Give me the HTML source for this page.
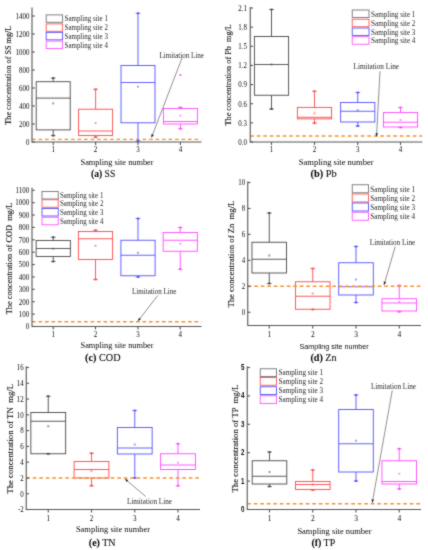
<!DOCTYPE html>
<html><head><meta charset="utf-8"><style>
html,body{margin:0;padding:0;background:#fff;}
body{width:428px;height:550px;overflow:hidden;}
svg{display:block;will-change:transform;}
text{fill:#0a0a0a;}
.h{stroke:#151515;stroke-width:0.1px;}
.m{fill:#2a2a2a;}
</style></head><body>
<svg width="428" height="550" viewBox="0 0 428 550">
<defs><filter id="bl" color-interpolation-filters="sRGB" filterUnits="userSpaceOnUse" x="0" y="0" width="428" height="550"><feConvolveMatrix order="3" kernelMatrix="1 2 1 2 16 2 1 2 1" divisor="28" edgeMode="duplicate"/></filter></defs>
<g filter="url(#bl)"><rect width="428" height="550" fill="#fff"/>
<g stroke="#484848" stroke-width="0.9" fill="none">
<rect x="36.2" y="81.7" width="34" height="48.2"/>
<line x1="36.2" y1="98.1" x2="70.2" y2="98.1"/>
<line x1="53.2" y1="78.1" x2="53.2" y2="81.7"/>
<line x1="53.2" y1="129.9" x2="53.2" y2="135.6"/>
</g>
<line x1="50.8" y1="78.1" x2="55.6" y2="78.1" stroke="#484848" stroke-width="0.9" opacity="0.8"/>
<rect x="52.1" y="77.2" width="2.2" height="1.8" fill="#484848"/>
<line x1="50.8" y1="135.6" x2="55.6" y2="135.6" stroke="#484848" stroke-width="0.9" opacity="0.8"/>
<rect x="52.1" y="134.7" width="2.2" height="1.8" fill="#484848"/>
<rect x="52.2" y="102.4" width="2" height="2" fill="#484848" opacity="0.55"/>
<g stroke="#ff4646" stroke-width="0.9" fill="none">
<rect x="78.6" y="109.2" width="34" height="26.3"/>
<line x1="78.6" y1="131" x2="112.6" y2="131"/>
<line x1="95.6" y1="89.3" x2="95.6" y2="109.2"/>
<line x1="95.6" y1="135.5" x2="95.6" y2="137.2"/>
</g>
<line x1="93.2" y1="89.3" x2="98" y2="89.3" stroke="#ff4646" stroke-width="0.9" opacity="0.8"/>
<rect x="94.5" y="88.4" width="2.2" height="1.8" fill="#ff4646"/>
<line x1="93.2" y1="137.2" x2="98" y2="137.2" stroke="#ff4646" stroke-width="0.9" opacity="0.8"/>
<rect x="94.5" y="136.3" width="2.2" height="1.8" fill="#ff4646"/>
<rect x="94.6" y="122.1" width="2" height="2" fill="#ff4646" opacity="0.55"/>
<g stroke="#5050ff" stroke-width="0.9" fill="none">
<rect x="121" y="65.5" width="34" height="57.3"/>
<line x1="121" y1="82.5" x2="155" y2="82.5"/>
<line x1="138" y1="13.3" x2="138" y2="65.5"/>
<line x1="138" y1="122.8" x2="138" y2="141"/>
</g>
<line x1="135.6" y1="13.3" x2="140.4" y2="13.3" stroke="#5050ff" stroke-width="0.9" opacity="0.8"/>
<rect x="136.9" y="12.4" width="2.2" height="1.8" fill="#5050ff"/>
<line x1="135.6" y1="141" x2="140.4" y2="141" stroke="#5050ff" stroke-width="0.9" opacity="0.8"/>
<rect x="136.9" y="140.1" width="2.2" height="1.8" fill="#5050ff"/>
<rect x="137" y="85.7" width="2" height="2" fill="#5050ff" opacity="0.55"/>
<g stroke="#ff46ff" stroke-width="0.9" fill="none">
<rect x="163.4" y="108.5" width="34" height="15.5"/>
<line x1="163.4" y1="121.5" x2="197.4" y2="121.5"/>
<line x1="180.4" y1="107.5" x2="180.4" y2="108.5"/>
<line x1="180.4" y1="124" x2="180.4" y2="128.7"/>
</g>
<line x1="178" y1="107.5" x2="182.8" y2="107.5" stroke="#ff46ff" stroke-width="0.9" opacity="0.8"/>
<rect x="179.3" y="106.6" width="2.2" height="1.8" fill="#ff46ff"/>
<line x1="178" y1="128.7" x2="182.8" y2="128.7" stroke="#ff46ff" stroke-width="0.9" opacity="0.8"/>
<rect x="179.3" y="127.8" width="2.2" height="1.8" fill="#ff46ff"/>
<rect x="179.4" y="114.7" width="2" height="2" fill="#ff46ff" opacity="0.55"/>
<rect x="179.4" y="74" width="2" height="2" fill="#ff46ff" opacity="0.8"/>
<line x1="32" y1="139.3" x2="201.5" y2="139.3" stroke="#f5922e" stroke-width="1.35" stroke-dasharray="3.7 2.8"/>
<path d="M32 7.5V142H201.5" stroke="#555555" stroke-width="1.1" fill="none"/>
<line x1="32" y1="142" x2="34.8" y2="142" stroke="#555555" stroke-width="1.1"/>
<text transform="translate(29.4 144.8) scale(0.960 1)" text-anchor="end" font-family='"Liberation Serif", serif' font-size="7.2">0</text>
<line x1="32" y1="124" x2="34.8" y2="124" stroke="#555555" stroke-width="1.1"/>
<text transform="translate(29.4 126.8) scale(0.960 1)" text-anchor="end" font-family='"Liberation Serif", serif' font-size="7.2">200</text>
<line x1="32" y1="106" x2="34.8" y2="106" stroke="#555555" stroke-width="1.1"/>
<text transform="translate(29.4 108.8) scale(0.960 1)" text-anchor="end" font-family='"Liberation Serif", serif' font-size="7.2">400</text>
<line x1="32" y1="88" x2="34.8" y2="88" stroke="#555555" stroke-width="1.1"/>
<text transform="translate(29.4 90.8) scale(0.960 1)" text-anchor="end" font-family='"Liberation Serif", serif' font-size="7.2">600</text>
<line x1="32" y1="70" x2="34.8" y2="70" stroke="#555555" stroke-width="1.1"/>
<text transform="translate(29.4 72.8) scale(0.960 1)" text-anchor="end" font-family='"Liberation Serif", serif' font-size="7.2">800</text>
<line x1="32" y1="52" x2="34.8" y2="52" stroke="#555555" stroke-width="1.1"/>
<text transform="translate(29.4 54.8) scale(0.960 1)" text-anchor="end" font-family='"Liberation Serif", serif' font-size="7.2">1000</text>
<line x1="32" y1="34" x2="34.8" y2="34" stroke="#555555" stroke-width="1.1"/>
<text transform="translate(29.4 36.8) scale(0.960 1)" text-anchor="end" font-family='"Liberation Serif", serif' font-size="7.2">1200</text>
<line x1="32" y1="16" x2="34.8" y2="16" stroke="#555555" stroke-width="1.1"/>
<text transform="translate(29.4 18.8) scale(0.960 1)" text-anchor="end" font-family='"Liberation Serif", serif' font-size="7.2">1400</text>
<line x1="53.2" y1="142" x2="53.2" y2="145" stroke="#555555" stroke-width="1.1"/>
<text transform="translate(53.2 152.41) scale(0.960 1)" text-anchor="middle" font-family='"Liberation Serif", serif' font-size="7.3">1</text>
<line x1="95.6" y1="142" x2="95.6" y2="145" stroke="#555555" stroke-width="1.1"/>
<text transform="translate(95.6 152.41) scale(0.960 1)" text-anchor="middle" font-family='"Liberation Serif", serif' font-size="7.3">2</text>
<line x1="138" y1="142" x2="138" y2="145" stroke="#555555" stroke-width="1.1"/>
<text transform="translate(138 152.41) scale(0.960 1)" text-anchor="middle" font-family='"Liberation Serif", serif' font-size="7.3">3</text>
<line x1="180.4" y1="142" x2="180.4" y2="145" stroke="#555555" stroke-width="1.1"/>
<text transform="translate(180.4 152.41) scale(0.960 1)" text-anchor="middle" font-family='"Liberation Serif", serif' font-size="7.3">4</text>
<rect x="46.2" y="14.9" width="16.4" height="7.4" fill="none" stroke="#7a7a7a" stroke-width="0.95"/>
<text class="m" transform="translate(64.5 21.45) scale(0.9303 1)" font-family='"Liberation Serif", serif' font-size="7.5" xml:space="preserve">Sampling site 1</text>
<rect x="46.2" y="23.9" width="16.4" height="7.4" fill="none" stroke="#ff5a5a" stroke-width="0.95"/>
<text class="m" transform="translate(64.5 30.45) scale(0.9303 1)" font-family='"Liberation Serif", serif' font-size="7.5" xml:space="preserve">Sampling site 2</text>
<rect x="46.2" y="32.4" width="16.4" height="7.4" fill="none" stroke="#5a5aff" stroke-width="0.95"/>
<text class="m" transform="translate(64.5 38.95) scale(0.9303 1)" font-family='"Liberation Serif", serif' font-size="7.5" xml:space="preserve">Sampling site 3</text>
<rect x="46.2" y="41.1" width="16.4" height="7.4" fill="none" stroke="#ff5aff" stroke-width="0.95"/>
<text class="m" transform="translate(64.5 47.65) scale(0.9303 1)" font-family='"Liberation Serif", serif' font-size="7.5" xml:space="preserve">Sampling site 4</text>
<text class="m" transform="translate(159.5 57.6) scale(0.9287 1)" font-family='"Liberation Serif", serif' font-size="7.6" xml:space="preserve">Limitation Line</text>
<line x1="182" y1="58" x2="151.5" y2="137.5" stroke="#333" stroke-width="0.55"/>
<path d="M151.5 137.5L151.43 134.05L153.86 134.98Z" fill="#222"/>
<text class="h" transform="translate(11.3 124.7) rotate(-90) scale(0.9752 1.000)" font-family='"Liberation Serif", serif' font-size="8.4" xml:space="preserve">The concentration of SS mg/L</text>
<text transform="translate(80.5 165.1) scale(0.9067 1)" font-family='"Liberation Serif", serif' font-size="9.2" xml:space="preserve">Sampling site number</text>
<text class="h" transform="translate(91 176.9) scale(0.9038 1)" font-family='"Liberation Serif", serif' font-size="10.6" xml:space="preserve"><tspan font-weight="bold">(a)</tspan> SS</text>
<g stroke="#484848" stroke-width="0.9" fill="none">
<rect x="254.4" y="36.5" width="34.2" height="58.75"/>
<line x1="254.4" y1="64.5" x2="288.6" y2="64.5"/>
<line x1="271.5" y1="9.5" x2="271.5" y2="36.5"/>
<line x1="271.5" y1="95.25" x2="271.5" y2="109"/>
</g>
<line x1="269.1" y1="9.5" x2="273.9" y2="9.5" stroke="#484848" stroke-width="0.9" opacity="0.8"/>
<rect x="270.4" y="8.6" width="2.2" height="1.8" fill="#484848"/>
<line x1="269.1" y1="109" x2="273.9" y2="109" stroke="#484848" stroke-width="0.9" opacity="0.8"/>
<rect x="270.4" y="108.1" width="2.2" height="1.8" fill="#484848"/>
<rect x="270.5" y="63.5" width="2" height="2" fill="#484848" opacity="0.55"/>
<g stroke="#ff4646" stroke-width="0.9" fill="none">
<rect x="297.4" y="107.4" width="34.2" height="11.5"/>
<line x1="297.4" y1="117.3" x2="331.6" y2="117.3"/>
<line x1="314.5" y1="91.3" x2="314.5" y2="107.4"/>
<line x1="314.5" y1="118.9" x2="314.5" y2="123.1"/>
</g>
<line x1="312.1" y1="91.3" x2="316.9" y2="91.3" stroke="#ff4646" stroke-width="0.9" opacity="0.8"/>
<rect x="313.4" y="90.4" width="2.2" height="1.8" fill="#ff4646"/>
<line x1="312.1" y1="123.1" x2="316.9" y2="123.1" stroke="#ff4646" stroke-width="0.9" opacity="0.8"/>
<rect x="313.4" y="122.2" width="2.2" height="1.8" fill="#ff4646"/>
<rect x="313.5" y="112.3" width="2" height="2" fill="#ff4646" opacity="0.55"/>
<g stroke="#5050ff" stroke-width="0.9" fill="none">
<rect x="340.65" y="102.5" width="34.2" height="19.5"/>
<line x1="340.65" y1="111.25" x2="374.85" y2="111.25"/>
<line x1="357.75" y1="92.5" x2="357.75" y2="102.5"/>
<line x1="357.75" y1="122" x2="357.75" y2="126"/>
</g>
<line x1="355.35" y1="92.5" x2="360.15" y2="92.5" stroke="#5050ff" stroke-width="0.9" opacity="0.8"/>
<rect x="356.65" y="91.6" width="2.2" height="1.8" fill="#5050ff"/>
<line x1="355.35" y1="126" x2="360.15" y2="126" stroke="#5050ff" stroke-width="0.9" opacity="0.8"/>
<rect x="356.65" y="125.1" width="2.2" height="1.8" fill="#5050ff"/>
<rect x="356.75" y="109.25" width="2" height="2" fill="#5050ff" opacity="0.55"/>
<g stroke="#ff46ff" stroke-width="0.9" fill="none">
<rect x="383.4" y="112.5" width="34.2" height="14.5"/>
<line x1="383.4" y1="122.25" x2="417.6" y2="122.25"/>
<line x1="400.5" y1="107.5" x2="400.5" y2="112.5"/>
<line x1="400.5" y1="127" x2="400.5" y2="127.5"/>
</g>
<line x1="398.1" y1="107.5" x2="402.9" y2="107.5" stroke="#ff46ff" stroke-width="0.9" opacity="0.8"/>
<rect x="399.4" y="106.6" width="2.2" height="1.8" fill="#ff46ff"/>
<line x1="398.1" y1="127.5" x2="402.9" y2="127.5" stroke="#ff46ff" stroke-width="0.9" opacity="0.8"/>
<rect x="399.4" y="126.6" width="2.2" height="1.8" fill="#ff46ff"/>
<rect x="399.5" y="119" width="2" height="2" fill="#ff46ff" opacity="0.55"/>
<line x1="250.25" y1="136" x2="422.25" y2="136" stroke="#f5922e" stroke-width="1.35" stroke-dasharray="3.7 2.8"/>
<path d="M250.25 7V142H422.25" stroke="#555555" stroke-width="1.1" fill="none"/>
<line x1="250.25" y1="142" x2="253.05" y2="142" stroke="#555555" stroke-width="1.1"/>
<text transform="translate(246.85 144.8) scale(0.960 1)" text-anchor="end" font-family='"Liberation Serif", serif' font-size="7.2">0.0</text>
<line x1="250.25" y1="122.86" x2="253.05" y2="122.86" stroke="#555555" stroke-width="1.1"/>
<text transform="translate(246.85 125.66) scale(0.960 1)" text-anchor="end" font-family='"Liberation Serif", serif' font-size="7.2">0.3</text>
<line x1="250.25" y1="103.71" x2="253.05" y2="103.71" stroke="#555555" stroke-width="1.1"/>
<text transform="translate(246.85 106.51) scale(0.960 1)" text-anchor="end" font-family='"Liberation Serif", serif' font-size="7.2">0.6</text>
<line x1="250.25" y1="84.57" x2="253.05" y2="84.57" stroke="#555555" stroke-width="1.1"/>
<text transform="translate(246.85 87.37) scale(0.960 1)" text-anchor="end" font-family='"Liberation Serif", serif' font-size="7.2">0.9</text>
<line x1="250.25" y1="65.43" x2="253.05" y2="65.43" stroke="#555555" stroke-width="1.1"/>
<text transform="translate(246.85 68.23) scale(0.960 1)" text-anchor="end" font-family='"Liberation Serif", serif' font-size="7.2">1.2</text>
<line x1="250.25" y1="46.29" x2="253.05" y2="46.29" stroke="#555555" stroke-width="1.1"/>
<text transform="translate(246.85 49.09) scale(0.960 1)" text-anchor="end" font-family='"Liberation Serif", serif' font-size="7.2">1.5</text>
<line x1="250.25" y1="27.14" x2="253.05" y2="27.14" stroke="#555555" stroke-width="1.1"/>
<text transform="translate(246.85 29.94) scale(0.960 1)" text-anchor="end" font-family='"Liberation Serif", serif' font-size="7.2">1.8</text>
<line x1="250.25" y1="8" x2="253.05" y2="8" stroke="#555555" stroke-width="1.1"/>
<text transform="translate(246.85 10.8) scale(0.960 1)" text-anchor="end" font-family='"Liberation Serif", serif' font-size="7.2">2.1</text>
<line x1="271.5" y1="142" x2="271.5" y2="145" stroke="#555555" stroke-width="1.1"/>
<text transform="translate(271.5 152.31) scale(0.960 1)" text-anchor="middle" font-family='"Liberation Serif", serif' font-size="7.3">1</text>
<line x1="314.5" y1="142" x2="314.5" y2="145" stroke="#555555" stroke-width="1.1"/>
<text transform="translate(314.5 152.31) scale(0.960 1)" text-anchor="middle" font-family='"Liberation Serif", serif' font-size="7.3">2</text>
<line x1="357.75" y1="142" x2="357.75" y2="145" stroke="#555555" stroke-width="1.1"/>
<text transform="translate(357.75 152.31) scale(0.960 1)" text-anchor="middle" font-family='"Liberation Serif", serif' font-size="7.3">3</text>
<line x1="400.5" y1="142" x2="400.5" y2="145" stroke="#555555" stroke-width="1.1"/>
<text transform="translate(400.5 152.31) scale(0.960 1)" text-anchor="middle" font-family='"Liberation Serif", serif' font-size="7.3">4</text>
<rect x="352.25" y="10" width="16.75" height="7.5" fill="none" stroke="#7a7a7a" stroke-width="0.95"/>
<text class="m" transform="translate(371 16.6) scale(0.9539 1)" font-family='"Liberation Serif", serif' font-size="7.5" xml:space="preserve">Sampling site 1</text>
<rect x="352.25" y="19.25" width="16.75" height="7.5" fill="none" stroke="#ff5a5a" stroke-width="0.95"/>
<text class="m" transform="translate(371 25.85) scale(0.9539 1)" font-family='"Liberation Serif", serif' font-size="7.5" xml:space="preserve">Sampling site 2</text>
<rect x="352.25" y="28" width="16.75" height="7.5" fill="none" stroke="#5a5aff" stroke-width="0.95"/>
<text class="m" transform="translate(371 34.6) scale(0.9539 1)" font-family='"Liberation Serif", serif' font-size="7.5" xml:space="preserve">Sampling site 3</text>
<rect x="352.25" y="36.75" width="16.75" height="7.5" fill="none" stroke="#ff5aff" stroke-width="0.95"/>
<text class="m" transform="translate(371 43.35) scale(0.9539 1)" font-family='"Liberation Serif", serif' font-size="7.5" xml:space="preserve">Sampling site 4</text>
<text class="m" transform="translate(353.5 69.35) scale(0.9495 1)" font-family='"Liberation Serif", serif' font-size="7.6" xml:space="preserve">Limitation Line</text>
<line x1="380" y1="71.25" x2="376.5" y2="136.5" stroke="#333" stroke-width="0.55"/>
<path d="M376.5 136.5L375.37 133.23L377.97 133.37Z" fill="#222"/>
<text class="h" transform="translate(231.3 125.5) rotate(-90) scale(0.9824 1.000)" font-family='"Liberation Serif", serif' font-size="8.4" xml:space="preserve">The concentration of Pb  mg/L</text>
<text transform="translate(298.8 164.7) scale(0.9278 1)" font-family='"Liberation Serif", serif' font-size="9.2" xml:space="preserve">Sampling site number</text>
<text class="h" transform="translate(310.6 176.9) scale(0.9743 1)" font-family='"Liberation Serif", serif' font-size="10.6" xml:space="preserve"><tspan font-weight="bold">(b)</tspan> Pb</text>
<g stroke="#484848" stroke-width="0.9" fill="none">
<rect x="36.15" y="240.5" width="34.2" height="16"/>
<line x1="36.15" y1="248.5" x2="70.35" y2="248.5"/>
<line x1="53.25" y1="237.25" x2="53.25" y2="240.5"/>
<line x1="53.25" y1="256.5" x2="53.25" y2="261.5"/>
</g>
<line x1="50.85" y1="237.25" x2="55.65" y2="237.25" stroke="#484848" stroke-width="0.9" opacity="0.8"/>
<rect x="52.15" y="236.35" width="2.2" height="1.8" fill="#484848"/>
<line x1="50.85" y1="261.5" x2="55.65" y2="261.5" stroke="#484848" stroke-width="0.9" opacity="0.8"/>
<rect x="52.15" y="260.6" width="2.2" height="1.8" fill="#484848"/>
<rect x="52.25" y="247.75" width="2" height="2" fill="#484848" opacity="0.55"/>
<g stroke="#ff4646" stroke-width="0.9" fill="none">
<rect x="78.4" y="231.5" width="34.2" height="28"/>
<line x1="78.4" y1="238.75" x2="112.6" y2="238.75"/>
<line x1="95.5" y1="230.25" x2="95.5" y2="231.5"/>
<line x1="95.5" y1="259.5" x2="95.5" y2="279.5"/>
</g>
<line x1="93.1" y1="230.25" x2="97.9" y2="230.25" stroke="#ff4646" stroke-width="0.9" opacity="0.8"/>
<rect x="94.4" y="229.35" width="2.2" height="1.8" fill="#ff4646"/>
<line x1="93.1" y1="279.5" x2="97.9" y2="279.5" stroke="#ff4646" stroke-width="0.9" opacity="0.8"/>
<rect x="94.4" y="278.6" width="2.2" height="1.8" fill="#ff4646"/>
<rect x="94.5" y="244.75" width="2" height="2" fill="#ff4646" opacity="0.55"/>
<g stroke="#5050ff" stroke-width="0.9" fill="none">
<rect x="120.9" y="240.25" width="34.2" height="35.5"/>
<line x1="120.9" y1="255.25" x2="155.1" y2="255.25"/>
<line x1="138" y1="218.5" x2="138" y2="240.25"/>
<line x1="138" y1="275.75" x2="138" y2="277"/>
</g>
<line x1="135.6" y1="218.5" x2="140.4" y2="218.5" stroke="#5050ff" stroke-width="0.9" opacity="0.8"/>
<rect x="136.9" y="217.6" width="2.2" height="1.8" fill="#5050ff"/>
<line x1="135.6" y1="277" x2="140.4" y2="277" stroke="#5050ff" stroke-width="0.9" opacity="0.8"/>
<rect x="136.9" y="276.1" width="2.2" height="1.8" fill="#5050ff"/>
<rect x="137" y="251.75" width="2" height="2" fill="#5050ff" opacity="0.55"/>
<g stroke="#ff46ff" stroke-width="0.9" fill="none">
<rect x="163.15" y="232.5" width="34.2" height="18.75"/>
<line x1="163.15" y1="240.25" x2="197.35" y2="240.25"/>
<line x1="180.25" y1="227.5" x2="180.25" y2="232.5"/>
<line x1="180.25" y1="251.25" x2="180.25" y2="269.25"/>
</g>
<line x1="177.85" y1="227.5" x2="182.65" y2="227.5" stroke="#ff46ff" stroke-width="0.9" opacity="0.8"/>
<rect x="179.15" y="226.6" width="2.2" height="1.8" fill="#ff46ff"/>
<line x1="177.85" y1="269.25" x2="182.65" y2="269.25" stroke="#ff46ff" stroke-width="0.9" opacity="0.8"/>
<rect x="179.15" y="268.35" width="2.2" height="1.8" fill="#ff46ff"/>
<rect x="179.25" y="242.75" width="2" height="2" fill="#ff46ff" opacity="0.55"/>
<line x1="32" y1="321.75" x2="201.5" y2="321.75" stroke="#f5922e" stroke-width="1.35" stroke-dasharray="3.7 2.8"/>
<path d="M32 187.75V326.5H201.5" stroke="#555555" stroke-width="1.1" fill="none"/>
<line x1="32" y1="326.5" x2="34.8" y2="326.5" stroke="#555555" stroke-width="1.1"/>
<text transform="translate(29.1 329.3) scale(0.960 1)" text-anchor="end" font-family='"Liberation Serif", serif' font-size="7.2">0</text>
<line x1="32" y1="314.11" x2="34.8" y2="314.11" stroke="#555555" stroke-width="1.1"/>
<text transform="translate(29.1 316.91) scale(0.960 1)" text-anchor="end" font-family='"Liberation Serif", serif' font-size="7.2">100</text>
<line x1="32" y1="301.73" x2="34.8" y2="301.73" stroke="#555555" stroke-width="1.1"/>
<text transform="translate(29.1 304.53) scale(0.960 1)" text-anchor="end" font-family='"Liberation Serif", serif' font-size="7.2">200</text>
<line x1="32" y1="289.34" x2="34.8" y2="289.34" stroke="#555555" stroke-width="1.1"/>
<text transform="translate(29.1 292.14) scale(0.960 1)" text-anchor="end" font-family='"Liberation Serif", serif' font-size="7.2">300</text>
<line x1="32" y1="276.95" x2="34.8" y2="276.95" stroke="#555555" stroke-width="1.1"/>
<text transform="translate(29.1 279.75) scale(0.960 1)" text-anchor="end" font-family='"Liberation Serif", serif' font-size="7.2">400</text>
<line x1="32" y1="264.57" x2="34.8" y2="264.57" stroke="#555555" stroke-width="1.1"/>
<text transform="translate(29.1 267.37) scale(0.960 1)" text-anchor="end" font-family='"Liberation Serif", serif' font-size="7.2">500</text>
<line x1="32" y1="252.18" x2="34.8" y2="252.18" stroke="#555555" stroke-width="1.1"/>
<text transform="translate(29.1 254.98) scale(0.960 1)" text-anchor="end" font-family='"Liberation Serif", serif' font-size="7.2">600</text>
<line x1="32" y1="239.8" x2="34.8" y2="239.8" stroke="#555555" stroke-width="1.1"/>
<text transform="translate(29.1 242.6) scale(0.960 1)" text-anchor="end" font-family='"Liberation Serif", serif' font-size="7.2">700</text>
<line x1="32" y1="227.41" x2="34.8" y2="227.41" stroke="#555555" stroke-width="1.1"/>
<text transform="translate(29.1 230.21) scale(0.960 1)" text-anchor="end" font-family='"Liberation Serif", serif' font-size="7.2">800</text>
<line x1="32" y1="215.02" x2="34.8" y2="215.02" stroke="#555555" stroke-width="1.1"/>
<text transform="translate(29.1 217.82) scale(0.960 1)" text-anchor="end" font-family='"Liberation Serif", serif' font-size="7.2">900</text>
<line x1="32" y1="202.64" x2="34.8" y2="202.64" stroke="#555555" stroke-width="1.1"/>
<text transform="translate(29.1 205.44) scale(0.960 1)" text-anchor="end" font-family='"Liberation Serif", serif' font-size="7.2">1000</text>
<line x1="32" y1="190.25" x2="34.8" y2="190.25" stroke="#555555" stroke-width="1.1"/>
<text transform="translate(29.1 193.05) scale(0.960 1)" text-anchor="end" font-family='"Liberation Serif", serif' font-size="7.2">1100</text>
<line x1="53.25" y1="326.5" x2="53.25" y2="329.5" stroke="#555555" stroke-width="1.1"/>
<text transform="translate(53.25 337.11) scale(0.960 1)" text-anchor="middle" font-family='"Liberation Serif", serif' font-size="7.3">1</text>
<line x1="95.5" y1="326.5" x2="95.5" y2="329.5" stroke="#555555" stroke-width="1.1"/>
<text transform="translate(95.5 337.11) scale(0.960 1)" text-anchor="middle" font-family='"Liberation Serif", serif' font-size="7.3">2</text>
<line x1="138" y1="326.5" x2="138" y2="329.5" stroke="#555555" stroke-width="1.1"/>
<text transform="translate(138 337.11) scale(0.960 1)" text-anchor="middle" font-family='"Liberation Serif", serif' font-size="7.3">3</text>
<line x1="180.25" y1="326.5" x2="180.25" y2="329.5" stroke="#555555" stroke-width="1.1"/>
<text transform="translate(180.25 337.11) scale(0.960 1)" text-anchor="middle" font-family='"Liberation Serif", serif' font-size="7.3">4</text>
<rect x="42" y="191.5" width="16.25" height="7.5" fill="none" stroke="#7a7a7a" stroke-width="0.95"/>
<text class="m" transform="translate(59.9 198.1) scale(0.9325 1)" font-family='"Liberation Serif", serif' font-size="7.5" xml:space="preserve">Sampling site 1</text>
<rect x="42" y="199.75" width="16.25" height="7.5" fill="none" stroke="#ff5a5a" stroke-width="0.95"/>
<text class="m" transform="translate(59.9 206.35) scale(0.9325 1)" font-family='"Liberation Serif", serif' font-size="7.5" xml:space="preserve">Sampling site 2</text>
<rect x="42" y="208.5" width="16.25" height="7.5" fill="none" stroke="#5a5aff" stroke-width="0.95"/>
<text class="m" transform="translate(59.9 215.1) scale(0.9325 1)" font-family='"Liberation Serif", serif' font-size="7.5" xml:space="preserve">Sampling site 3</text>
<rect x="42" y="217.25" width="16.25" height="7.5" fill="none" stroke="#ff5aff" stroke-width="0.95"/>
<text class="m" transform="translate(59.9 223.85) scale(0.9325 1)" font-family='"Liberation Serif", serif' font-size="7.5" xml:space="preserve">Sampling site 4</text>
<text class="m" transform="translate(132 294.1) scale(0.9287 1)" font-family='"Liberation Serif", serif' font-size="7.6" xml:space="preserve">Limitation Line</text>
<line x1="157.75" y1="295.5" x2="138" y2="321" stroke="#333" stroke-width="0.55"/>
<path d="M138 321L138.93 317.67L140.99 319.27Z" fill="#222"/>
<text class="h" transform="translate(11.7 314.3) rotate(-90) scale(0.9957 1.000)" font-family='"Liberation Serif", serif' font-size="8.4" xml:space="preserve">The concentration of COD  mg/L</text>
<text transform="translate(80.5 348.1) scale(0.9067 1)" font-family='"Liberation Serif", serif' font-size="9.2" xml:space="preserve">Sampling site number</text>
<text class="h" transform="translate(85.1 361.4) scale(0.9624 1)" font-family='"Liberation Serif", serif' font-size="10.6" xml:space="preserve"><tspan font-weight="bold">(c)</tspan> COD</text>
<g stroke="#484848" stroke-width="0.9" fill="none">
<rect x="251.95" y="242.25" width="34.6" height="30.75"/>
<line x1="251.95" y1="259.25" x2="286.55" y2="259.25"/>
<line x1="269.25" y1="213" x2="269.25" y2="242.25"/>
<line x1="269.25" y1="273" x2="269.25" y2="283.5"/>
</g>
<line x1="266.85" y1="213" x2="271.65" y2="213" stroke="#484848" stroke-width="0.9" opacity="0.8"/>
<rect x="268.15" y="212.1" width="2.2" height="1.8" fill="#484848"/>
<line x1="266.85" y1="283.5" x2="271.65" y2="283.5" stroke="#484848" stroke-width="0.9" opacity="0.8"/>
<rect x="268.15" y="282.6" width="2.2" height="1.8" fill="#484848"/>
<rect x="268.25" y="254.5" width="2" height="2" fill="#484848" opacity="0.55"/>
<g stroke="#ff4646" stroke-width="0.9" fill="none">
<rect x="295.45" y="281.75" width="34.6" height="27.5"/>
<line x1="295.45" y1="296.25" x2="330.05" y2="296.25"/>
<line x1="312.75" y1="268.5" x2="312.75" y2="281.75"/>
<line x1="312.75" y1="309.25" x2="312.75" y2="309.5"/>
</g>
<line x1="310.35" y1="268.5" x2="315.15" y2="268.5" stroke="#ff4646" stroke-width="0.9" opacity="0.8"/>
<rect x="311.65" y="267.6" width="2.2" height="1.8" fill="#ff4646"/>
<line x1="310.35" y1="309.5" x2="315.15" y2="309.5" stroke="#ff4646" stroke-width="0.9" opacity="0.8"/>
<rect x="311.65" y="308.6" width="2.2" height="1.8" fill="#ff4646"/>
<rect x="311.75" y="292.5" width="2" height="2" fill="#ff4646" opacity="0.55"/>
<g stroke="#5050ff" stroke-width="0.9" fill="none">
<rect x="338.7" y="262.75" width="34.6" height="32.25"/>
<line x1="338.7" y1="286.75" x2="373.3" y2="286.75"/>
<line x1="356" y1="246.5" x2="356" y2="262.75"/>
<line x1="356" y1="295" x2="356" y2="302.5"/>
</g>
<line x1="353.6" y1="246.5" x2="358.4" y2="246.5" stroke="#5050ff" stroke-width="0.9" opacity="0.8"/>
<rect x="354.9" y="245.6" width="2.2" height="1.8" fill="#5050ff"/>
<line x1="353.6" y1="302.5" x2="358.4" y2="302.5" stroke="#5050ff" stroke-width="0.9" opacity="0.8"/>
<rect x="354.9" y="301.6" width="2.2" height="1.8" fill="#5050ff"/>
<rect x="355" y="278.5" width="2" height="2" fill="#5050ff" opacity="0.55"/>
<g stroke="#ff46ff" stroke-width="0.9" fill="none">
<rect x="381.95" y="298.75" width="34.6" height="12.25"/>
<line x1="381.95" y1="303" x2="416.55" y2="303"/>
<line x1="399.25" y1="285.5" x2="399.25" y2="298.75"/>
<line x1="399.25" y1="311" x2="399.25" y2="311.75"/>
</g>
<line x1="396.85" y1="285.5" x2="401.65" y2="285.5" stroke="#ff46ff" stroke-width="0.9" opacity="0.8"/>
<rect x="398.15" y="284.6" width="2.2" height="1.8" fill="#ff46ff"/>
<line x1="396.85" y1="311.75" x2="401.65" y2="311.75" stroke="#ff46ff" stroke-width="0.9" opacity="0.8"/>
<rect x="398.15" y="310.85" width="2.2" height="1.8" fill="#ff46ff"/>
<rect x="398.25" y="300.75" width="2" height="2" fill="#ff46ff" opacity="0.55"/>
<line x1="247.75" y1="286.25" x2="421" y2="286.25" stroke="#f5922e" stroke-width="1.35" stroke-dasharray="3.7 2.8"/>
<path d="M247.75 181.5V325.5H421" stroke="#555555" stroke-width="1.1" fill="none"/>
<line x1="247.75" y1="312.25" x2="250.55" y2="312.25" stroke="#555555" stroke-width="1.1"/>
<text transform="translate(245.15 315.05) scale(0.960 1)" text-anchor="end" font-family='"Liberation Serif", serif' font-size="7.2">0</text>
<line x1="247.75" y1="286.3" x2="250.55" y2="286.3" stroke="#555555" stroke-width="1.1"/>
<text transform="translate(245.15 289.1) scale(0.960 1)" text-anchor="end" font-family='"Liberation Serif", serif' font-size="7.2">2</text>
<line x1="247.75" y1="260.35" x2="250.55" y2="260.35" stroke="#555555" stroke-width="1.1"/>
<text transform="translate(245.15 263.15) scale(0.960 1)" text-anchor="end" font-family='"Liberation Serif", serif' font-size="7.2">4</text>
<line x1="247.75" y1="234.4" x2="250.55" y2="234.4" stroke="#555555" stroke-width="1.1"/>
<text transform="translate(245.15 237.2) scale(0.960 1)" text-anchor="end" font-family='"Liberation Serif", serif' font-size="7.2">6</text>
<line x1="247.75" y1="208.45" x2="250.55" y2="208.45" stroke="#555555" stroke-width="1.1"/>
<text transform="translate(245.15 211.25) scale(0.960 1)" text-anchor="end" font-family='"Liberation Serif", serif' font-size="7.2">8</text>
<line x1="247.75" y1="182.5" x2="250.55" y2="182.5" stroke="#555555" stroke-width="1.1"/>
<text transform="translate(245.15 185.3) scale(0.960 1)" text-anchor="end" font-family='"Liberation Serif", serif' font-size="7.2">10</text>
<line x1="269.25" y1="325.5" x2="269.25" y2="328.5" stroke="#555555" stroke-width="1.1"/>
<text transform="translate(269.25 336.77) scale(0.960 1)" text-anchor="middle" font-family='"Liberation Serif", serif' font-size="7.8">1</text>
<line x1="312.75" y1="325.5" x2="312.75" y2="328.5" stroke="#555555" stroke-width="1.1"/>
<text transform="translate(312.75 336.77) scale(0.960 1)" text-anchor="middle" font-family='"Liberation Serif", serif' font-size="7.8">2</text>
<line x1="356" y1="325.5" x2="356" y2="328.5" stroke="#555555" stroke-width="1.1"/>
<text transform="translate(356 336.77) scale(0.960 1)" text-anchor="middle" font-family='"Liberation Serif", serif' font-size="7.8">3</text>
<line x1="399.25" y1="325.5" x2="399.25" y2="328.5" stroke="#555555" stroke-width="1.1"/>
<text transform="translate(399.25 336.77) scale(0.960 1)" text-anchor="middle" font-family='"Liberation Serif", serif' font-size="7.8">4</text>
<rect x="352.25" y="184.75" width="16.25" height="8" fill="none" stroke="#7a7a7a" stroke-width="0.95"/>
<text class="m" transform="translate(370.25 191.6) scale(0.9646 1)" font-family='"Liberation Serif", serif' font-size="7.5" xml:space="preserve">Sampling site 1</text>
<rect x="352.25" y="194" width="16.25" height="8" fill="none" stroke="#ff5a5a" stroke-width="0.95"/>
<text class="m" transform="translate(370.25 200.85) scale(0.9646 1)" font-family='"Liberation Serif", serif' font-size="7.5" xml:space="preserve">Sampling site 2</text>
<rect x="352.25" y="203" width="16.25" height="8" fill="none" stroke="#5a5aff" stroke-width="0.95"/>
<text class="m" transform="translate(370.25 209.85) scale(0.9646 1)" font-family='"Liberation Serif", serif' font-size="7.5" xml:space="preserve">Sampling site 3</text>
<rect x="352.25" y="212.25" width="16.25" height="8" fill="none" stroke="#ff5aff" stroke-width="0.95"/>
<text class="m" transform="translate(370.25 219.1) scale(0.9646 1)" font-family='"Liberation Serif", serif' font-size="7.5" xml:space="preserve">Sampling site 4</text>
<text class="m" transform="translate(369.75 244.6) scale(0.9495 1)" font-family='"Liberation Serif", serif' font-size="7.6" xml:space="preserve">Limitation Line</text>
<line x1="395.25" y1="246.5" x2="384" y2="285" stroke="#333" stroke-width="0.55"/>
<path d="M384 285L383.65 281.56L386.15 282.29Z" fill="#222"/>
<text class="h" transform="translate(234 307.5) rotate(-90) scale(1.0310 1.000)" font-family='"Liberation Serif", serif' font-size="8.4" xml:space="preserve">The concentration of Zn  mg/L</text>
<text transform="translate(299.5 348.8) scale(0.9072 1)" font-family='"Liberation Sans", sans-serif' font-size="7.9" xml:space="preserve">Sampling site number</text>
<text class="h" transform="translate(310.4 361.4) scale(0.9608 1)" font-family='"Liberation Serif", serif' font-size="10.6" xml:space="preserve"><tspan font-weight="bold">(d)</tspan> Zn</text>
<g stroke="#484848" stroke-width="0.9" fill="none">
<rect x="30.85" y="412.5" width="34.8" height="41.25"/>
<line x1="30.85" y1="421.25" x2="65.65" y2="421.25"/>
<line x1="48.25" y1="396.25" x2="48.25" y2="412.5"/>
</g>
<line x1="45.85" y1="396.25" x2="50.65" y2="396.25" stroke="#484848" stroke-width="0.9" opacity="0.8"/>
<rect x="47.15" y="395.35" width="2.2" height="1.8" fill="#484848"/>
<line x1="45.85" y1="453.75" x2="50.65" y2="453.75" stroke="#484848" stroke-width="0.9" opacity="0.8"/>
<rect x="47.15" y="452.85" width="2.2" height="1.8" fill="#484848"/>
<rect x="47.25" y="425.25" width="2" height="2" fill="#484848" opacity="0.55"/>
<g stroke="#ff4646" stroke-width="0.9" fill="none">
<rect x="74.1" y="461.5" width="34.8" height="16.5"/>
<line x1="74.1" y1="469.5" x2="108.9" y2="469.5"/>
<line x1="91.5" y1="453.25" x2="91.5" y2="461.5"/>
<line x1="91.5" y1="478" x2="91.5" y2="485.75"/>
</g>
<line x1="89.1" y1="453.25" x2="93.9" y2="453.25" stroke="#ff4646" stroke-width="0.9" opacity="0.8"/>
<rect x="90.4" y="452.35" width="2.2" height="1.8" fill="#ff4646"/>
<line x1="89.1" y1="485.75" x2="93.9" y2="485.75" stroke="#ff4646" stroke-width="0.9" opacity="0.8"/>
<rect x="90.4" y="484.85" width="2.2" height="1.8" fill="#ff4646"/>
<rect x="90.5" y="469.75" width="2" height="2" fill="#ff4646" opacity="0.55"/>
<g stroke="#5050ff" stroke-width="0.9" fill="none">
<rect x="117.35" y="427.5" width="34.8" height="26.5"/>
<line x1="117.35" y1="448" x2="152.15" y2="448"/>
<line x1="134.75" y1="410.5" x2="134.75" y2="427.5"/>
<line x1="134.75" y1="454" x2="134.75" y2="478"/>
</g>
<line x1="132.35" y1="410.5" x2="137.15" y2="410.5" stroke="#5050ff" stroke-width="0.9" opacity="0.8"/>
<rect x="133.65" y="409.6" width="2.2" height="1.8" fill="#5050ff"/>
<line x1="132.35" y1="478" x2="137.15" y2="478" stroke="#5050ff" stroke-width="0.9" opacity="0.8"/>
<rect x="133.65" y="477.1" width="2.2" height="1.8" fill="#5050ff"/>
<rect x="133.75" y="443.5" width="2" height="2" fill="#5050ff" opacity="0.55"/>
<g stroke="#ff46ff" stroke-width="0.9" fill="none">
<rect x="160.6" y="453.75" width="34.8" height="15.75"/>
<line x1="160.6" y1="465" x2="195.4" y2="465"/>
<line x1="178" y1="443.75" x2="178" y2="453.75"/>
<line x1="178" y1="469.5" x2="178" y2="485.75"/>
</g>
<line x1="175.6" y1="443.75" x2="180.4" y2="443.75" stroke="#ff46ff" stroke-width="0.9" opacity="0.8"/>
<rect x="176.9" y="442.85" width="2.2" height="1.8" fill="#ff46ff"/>
<line x1="175.6" y1="485.75" x2="180.4" y2="485.75" stroke="#ff46ff" stroke-width="0.9" opacity="0.8"/>
<rect x="176.9" y="484.85" width="2.2" height="1.8" fill="#ff46ff"/>
<rect x="177" y="461.75" width="2" height="2" fill="#ff46ff" opacity="0.55"/>
<line x1="26.25" y1="478" x2="200" y2="478" stroke="#f5922e" stroke-width="1.35" stroke-dasharray="3.7 2.8"/>
<path d="M26.25 366.25V509.5H200" stroke="#555555" stroke-width="1.1" fill="none"/>
<line x1="26.25" y1="509.53" x2="29.05" y2="509.53" stroke="#555555" stroke-width="1.1"/>
<text transform="translate(23.65 512.33) scale(0.960 1)" text-anchor="end" font-family='"Liberation Serif", serif' font-size="7.2">-2</text>
<line x1="26.25" y1="493.75" x2="29.05" y2="493.75" stroke="#555555" stroke-width="1.1"/>
<text transform="translate(23.65 496.55) scale(0.960 1)" text-anchor="end" font-family='"Liberation Serif", serif' font-size="7.2">0</text>
<line x1="26.25" y1="477.97" x2="29.05" y2="477.97" stroke="#555555" stroke-width="1.1"/>
<text transform="translate(23.65 480.77) scale(0.960 1)" text-anchor="end" font-family='"Liberation Serif", serif' font-size="7.2">2</text>
<line x1="26.25" y1="462.19" x2="29.05" y2="462.19" stroke="#555555" stroke-width="1.1"/>
<text transform="translate(23.65 464.99) scale(0.960 1)" text-anchor="end" font-family='"Liberation Serif", serif' font-size="7.2">4</text>
<line x1="26.25" y1="446.41" x2="29.05" y2="446.41" stroke="#555555" stroke-width="1.1"/>
<text transform="translate(23.65 449.21) scale(0.960 1)" text-anchor="end" font-family='"Liberation Serif", serif' font-size="7.2">6</text>
<line x1="26.25" y1="430.62" x2="29.05" y2="430.62" stroke="#555555" stroke-width="1.1"/>
<text transform="translate(23.65 433.43) scale(0.960 1)" text-anchor="end" font-family='"Liberation Serif", serif' font-size="7.2">8</text>
<line x1="26.25" y1="414.84" x2="29.05" y2="414.84" stroke="#555555" stroke-width="1.1"/>
<text transform="translate(23.65 417.64) scale(0.960 1)" text-anchor="end" font-family='"Liberation Serif", serif' font-size="7.2">10</text>
<line x1="26.25" y1="399.06" x2="29.05" y2="399.06" stroke="#555555" stroke-width="1.1"/>
<text transform="translate(23.65 401.86) scale(0.960 1)" text-anchor="end" font-family='"Liberation Serif", serif' font-size="7.2">12</text>
<line x1="26.25" y1="383.28" x2="29.05" y2="383.28" stroke="#555555" stroke-width="1.1"/>
<text transform="translate(23.65 386.08) scale(0.960 1)" text-anchor="end" font-family='"Liberation Serif", serif' font-size="7.2">14</text>
<line x1="26.25" y1="367.5" x2="29.05" y2="367.5" stroke="#555555" stroke-width="1.1"/>
<text transform="translate(23.65 370.3) scale(0.960 1)" text-anchor="end" font-family='"Liberation Serif", serif' font-size="7.2">16</text>
<line x1="48.25" y1="509.5" x2="48.25" y2="512.5" stroke="#555555" stroke-width="1.1"/>
<text transform="translate(48.25 520.54) scale(0.960 1)" text-anchor="middle" font-family='"Liberation Serif", serif' font-size="7.4">1</text>
<line x1="91.5" y1="509.5" x2="91.5" y2="512.5" stroke="#555555" stroke-width="1.1"/>
<text transform="translate(91.5 520.54) scale(0.960 1)" text-anchor="middle" font-family='"Liberation Serif", serif' font-size="7.4">2</text>
<line x1="134.75" y1="509.5" x2="134.75" y2="512.5" stroke="#555555" stroke-width="1.1"/>
<text transform="translate(134.75 520.54) scale(0.960 1)" text-anchor="middle" font-family='"Liberation Serif", serif' font-size="7.4">3</text>
<line x1="178" y1="509.5" x2="178" y2="512.5" stroke="#555555" stroke-width="1.1"/>
<text transform="translate(178 520.54) scale(0.960 1)" text-anchor="middle" font-family='"Liberation Serif", serif' font-size="7.4">4</text>
<text class="m" transform="translate(127 503.85) scale(0.9391 1)" font-family='"Liberation Serif", serif' font-size="7.6" xml:space="preserve">Limitation Line</text>
<line x1="145.75" y1="496.5" x2="125" y2="479" stroke="#333" stroke-width="0.55"/>
<path d="M125 479L128.28 480.07L126.61 482.06Z" fill="#222"/>
<text class="h" transform="translate(12.5 493.7) rotate(-90) scale(1.0417 1.000)" font-family='"Liberation Serif", serif' font-size="8.4" xml:space="preserve">The concentration of TN  mg/L</text>
<text transform="translate(75.9 532.2) scale(0.9204 1)" font-family='"Liberation Serif", serif' font-size="9.2" xml:space="preserve">Sampling site number</text>
<text class="h" transform="translate(88.8 545.8) scale(0.9452 1)" font-family='"Liberation Serif", serif' font-size="10.6" xml:space="preserve"><tspan font-weight="bold">(e)</tspan> TN</text>
<g stroke="#484848" stroke-width="0.9" fill="none">
<rect x="252.2" y="460.75" width="34.6" height="23.25"/>
<line x1="252.2" y1="476.25" x2="286.8" y2="476.25"/>
<line x1="269.5" y1="452" x2="269.5" y2="460.75"/>
<line x1="269.5" y1="484" x2="269.5" y2="486.5"/>
</g>
<line x1="267.1" y1="452" x2="271.9" y2="452" stroke="#484848" stroke-width="0.9" opacity="0.8"/>
<rect x="268.4" y="451.1" width="2.2" height="1.8" fill="#484848"/>
<line x1="267.1" y1="486.5" x2="271.9" y2="486.5" stroke="#484848" stroke-width="0.9" opacity="0.8"/>
<rect x="268.4" y="485.6" width="2.2" height="1.8" fill="#484848"/>
<rect x="268.5" y="471" width="2" height="2" fill="#484848" opacity="0.55"/>
<g stroke="#ff4646" stroke-width="0.9" fill="none">
<rect x="295.45" y="481.5" width="34.6" height="8"/>
<line x1="295.45" y1="484.5" x2="330.05" y2="484.5"/>
<line x1="312.75" y1="470" x2="312.75" y2="481.5"/>
<line x1="312.75" y1="489.5" x2="312.75" y2="490"/>
</g>
<line x1="310.35" y1="470" x2="315.15" y2="470" stroke="#ff4646" stroke-width="0.9" opacity="0.8"/>
<rect x="311.65" y="469.1" width="2.2" height="1.8" fill="#ff4646"/>
<line x1="310.35" y1="490" x2="315.15" y2="490" stroke="#ff4646" stroke-width="0.9" opacity="0.8"/>
<rect x="311.65" y="489.1" width="2.2" height="1.8" fill="#ff4646"/>
<rect x="311.75" y="483.5" width="2" height="2" fill="#ff4646" opacity="0.55"/>
<g stroke="#5050ff" stroke-width="0.9" fill="none">
<rect x="338.7" y="409.5" width="34.6" height="62.5"/>
<line x1="338.7" y1="443.75" x2="373.3" y2="443.75"/>
<line x1="356" y1="395" x2="356" y2="409.5"/>
<line x1="356" y1="472" x2="356" y2="481"/>
</g>
<line x1="353.6" y1="395" x2="358.4" y2="395" stroke="#5050ff" stroke-width="0.9" opacity="0.8"/>
<rect x="354.9" y="394.1" width="2.2" height="1.8" fill="#5050ff"/>
<line x1="353.6" y1="481" x2="358.4" y2="481" stroke="#5050ff" stroke-width="0.9" opacity="0.8"/>
<rect x="354.9" y="480.1" width="2.2" height="1.8" fill="#5050ff"/>
<rect x="355" y="439.75" width="2" height="2" fill="#5050ff" opacity="0.55"/>
<g stroke="#ff46ff" stroke-width="0.9" fill="none">
<rect x="381.95" y="460.75" width="34.6" height="23.25"/>
<line x1="381.95" y1="481.5" x2="416.55" y2="481.5"/>
<line x1="399.25" y1="448.75" x2="399.25" y2="460.75"/>
<line x1="399.25" y1="484" x2="399.25" y2="489"/>
</g>
<line x1="396.85" y1="448.75" x2="401.65" y2="448.75" stroke="#ff46ff" stroke-width="0.9" opacity="0.8"/>
<rect x="398.15" y="447.85" width="2.2" height="1.8" fill="#ff46ff"/>
<line x1="396.85" y1="489" x2="401.65" y2="489" stroke="#ff46ff" stroke-width="0.9" opacity="0.8"/>
<rect x="398.15" y="488.1" width="2.2" height="1.8" fill="#ff46ff"/>
<rect x="398.25" y="472.75" width="2" height="2" fill="#ff46ff" opacity="0.55"/>
<line x1="247.25" y1="503.75" x2="421" y2="503.75" stroke="#f5922e" stroke-width="1.35" stroke-dasharray="3.7 2.8"/>
<path d="M247.25 366.25V509.5H421" stroke="#555555" stroke-width="1.1" fill="none"/>
<line x1="247.25" y1="509.5" x2="250.05" y2="509.5" stroke="#555555" stroke-width="1.1"/>
<text transform="translate(244.35 511.9) scale(0.700 1)" text-anchor="end" font-family='"Liberation Sans", sans-serif' font-size="8.8" font-weight="bold">0</text>
<line x1="247.25" y1="481.1" x2="250.05" y2="481.1" stroke="#555555" stroke-width="1.1"/>
<text transform="translate(244.35 483.5) scale(0.700 1)" text-anchor="end" font-family='"Liberation Sans", sans-serif' font-size="8.8" font-weight="bold">1</text>
<line x1="247.25" y1="452.7" x2="250.05" y2="452.7" stroke="#555555" stroke-width="1.1"/>
<text transform="translate(244.35 455.1) scale(0.700 1)" text-anchor="end" font-family='"Liberation Sans", sans-serif' font-size="8.8" font-weight="bold">2</text>
<line x1="247.25" y1="424.3" x2="250.05" y2="424.3" stroke="#555555" stroke-width="1.1"/>
<text transform="translate(244.35 426.7) scale(0.700 1)" text-anchor="end" font-family='"Liberation Sans", sans-serif' font-size="8.8" font-weight="bold">3</text>
<line x1="247.25" y1="395.9" x2="250.05" y2="395.9" stroke="#555555" stroke-width="1.1"/>
<text transform="translate(244.35 398.3) scale(0.700 1)" text-anchor="end" font-family='"Liberation Sans", sans-serif' font-size="8.8" font-weight="bold">4</text>
<line x1="247.25" y1="367.5" x2="250.05" y2="367.5" stroke="#555555" stroke-width="1.1"/>
<text transform="translate(244.35 369.9) scale(0.700 1)" text-anchor="end" font-family='"Liberation Sans", sans-serif' font-size="8.8" font-weight="bold">5</text>
<line x1="269.5" y1="509.5" x2="269.5" y2="512.5" stroke="#555555" stroke-width="1.1"/>
<text transform="translate(269.5 520.97) scale(0.960 1)" text-anchor="middle" font-family='"Liberation Serif", serif' font-size="7.8">1</text>
<line x1="312.75" y1="509.5" x2="312.75" y2="512.5" stroke="#555555" stroke-width="1.1"/>
<text transform="translate(312.75 520.97) scale(0.960 1)" text-anchor="middle" font-family='"Liberation Serif", serif' font-size="7.8">2</text>
<line x1="356" y1="509.5" x2="356" y2="512.5" stroke="#555555" stroke-width="1.1"/>
<text transform="translate(356 520.97) scale(0.960 1)" text-anchor="middle" font-family='"Liberation Serif", serif' font-size="7.8">3</text>
<line x1="399.25" y1="509.5" x2="399.25" y2="512.5" stroke="#555555" stroke-width="1.1"/>
<text transform="translate(399.25 520.97) scale(0.960 1)" text-anchor="middle" font-family='"Liberation Serif", serif' font-size="7.8">4</text>
<rect x="260.25" y="368.75" width="16.25" height="7.75" fill="none" stroke="#7a7a7a" stroke-width="0.95"/>
<text class="m" transform="translate(278.6 375.48) scale(0.9539 1)" font-family='"Liberation Serif", serif' font-size="7.5" xml:space="preserve">Sampling site 1</text>
<rect x="260.25" y="377.5" width="16.25" height="7.75" fill="none" stroke="#ff5a5a" stroke-width="0.95"/>
<text class="m" transform="translate(278.6 384.23) scale(0.9539 1)" font-family='"Liberation Serif", serif' font-size="7.5" xml:space="preserve">Sampling site 2</text>
<rect x="260.25" y="386.75" width="16.25" height="7.75" fill="none" stroke="#5a5aff" stroke-width="0.95"/>
<text class="m" transform="translate(278.6 393.48) scale(0.9539 1)" font-family='"Liberation Serif", serif' font-size="7.5" xml:space="preserve">Sampling site 3</text>
<rect x="260.25" y="395.75" width="16.25" height="7.75" fill="none" stroke="#ff5aff" stroke-width="0.95"/>
<text class="m" transform="translate(278.6 402.48) scale(0.9539 1)" font-family='"Liberation Serif", serif' font-size="7.5" xml:space="preserve">Sampling site 4</text>
<text class="m" transform="translate(371 389.35) scale(0.9391 1)" font-family='"Liberation Serif", serif' font-size="7.6" xml:space="preserve">Limitation Line</text>
<line x1="392.25" y1="390.5" x2="372.25" y2="502.75" stroke="#333" stroke-width="0.55"/>
<path d="M372.25 502.75L371.53 499.37L374.09 499.83Z" fill="#222"/>
<text class="h" transform="translate(237.5 492.5) rotate(-90) scale(1.0421 1.000)" font-family='"Liberation Serif", serif' font-size="8.4" xml:space="preserve">The concentration of TP  mg/L</text>
<text transform="translate(297.4 534.4) scale(0.9191 1)" font-family='"Liberation Serif", serif' font-size="9.2" xml:space="preserve">Sampling site number</text>
<text class="h" transform="translate(311.4 545.8) scale(0.9359 1)" font-family='"Liberation Serif", serif' font-size="10.6" xml:space="preserve"><tspan font-weight="bold">(f)</tspan> TP</text>
</g>
</svg>
</body></html>
